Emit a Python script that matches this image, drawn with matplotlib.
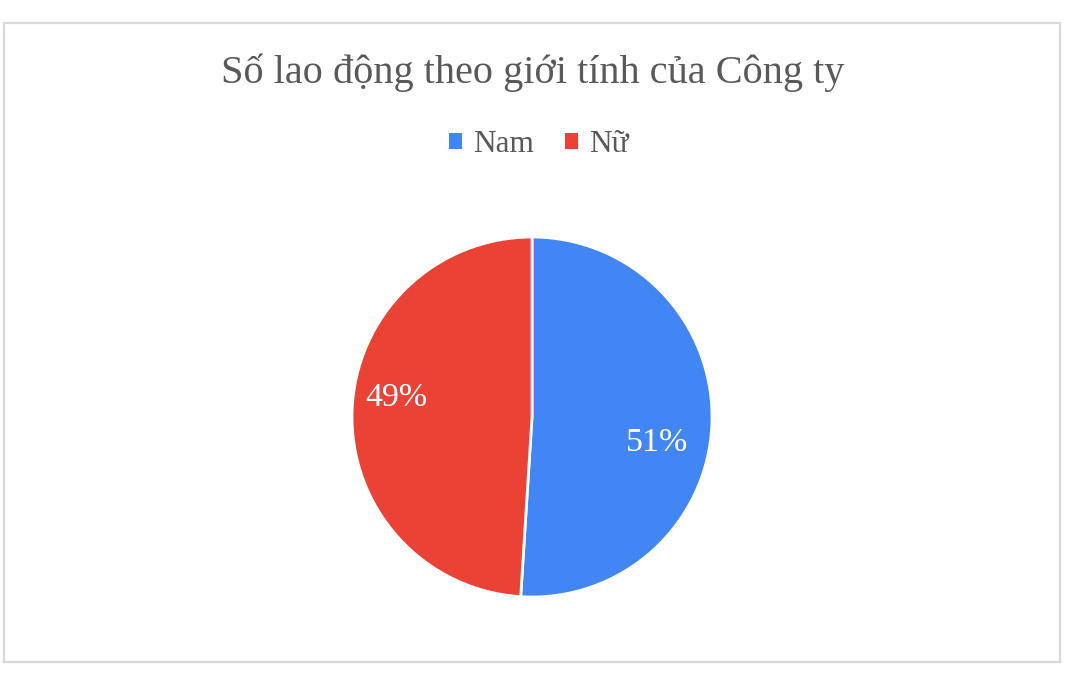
import matplotlib
import matplotlib.pyplot as plt
from matplotlib.patches import Rectangle, Patch
import numpy as np

matplotlib.use("agg")

labels = ["Nam", "Nữ"]
values = [51, 49]
colors = ["#4285F4", "#EA4335"]
title = "Số lao động theo giới tính của Công ty"

plt.rcParams["font.family"] = ["Liberation Serif", "DejaVu Serif"]

W, H = 1080, 698
fig = plt.figure(figsize=(W / 100, H / 100), dpi=100)

# chart frame
fig.patches.append(Rectangle((4 / W, 1 - 662 / H), 1056 / W, 639 / H,
                             transform=fig.transFigure, fill=False,
                             edgecolor="#d9d9d9", lw=1.6))

cx, cy, r = 532, 417, 180
ax = fig.add_axes([(cx - r) / W, (H - cy - r) / H, 2 * r / W, 2 * r / H])
wedges, texts, autotexts = ax.pie(
    values, colors=colors, startangle=90, counterclock=False,
    autopct="%d%%", pctdistance=0.73,
    wedgeprops=dict(edgecolor="white", linewidth=2),
    textprops=dict(color="white", fontsize=24.5),
)
ax.set_xlim(-1, 1)
ax.set_ylim(-1, 1)
ax.set_aspect("equal")

# nudge labels like Excel's best-fit placement
shifts = [-10, -6.5]
dists = [0.71, 0.76]
for w, t, s, d in zip(wedges, autotexts, shifts, dists):
    ang = np.deg2rad((w.theta1 + w.theta2) / 2 + s)
    t.set_position((d * np.cos(ang), d * np.sin(ang)))

fig.text(533 / W, 1 - 73 / H, title, ha="center", va="center",
         fontsize=29, color="#595959")

handles = [Patch(facecolor=c, label=l) for c, l in zip(colors, labels)]
leg = fig.legend(handles=handles, loc="center", bbox_to_anchor=(539 / W, 1 - 145 / H),
                 ncol=2, frameon=False, fontsize=22.5, handlelength=0.42,
                 handleheight=0.42, handletextpad=0.35, columnspacing=1.0)
for t in leg.get_texts():
    t.set_color("#595959")

fig.savefig("out.png", dpi=100, facecolor="white")
